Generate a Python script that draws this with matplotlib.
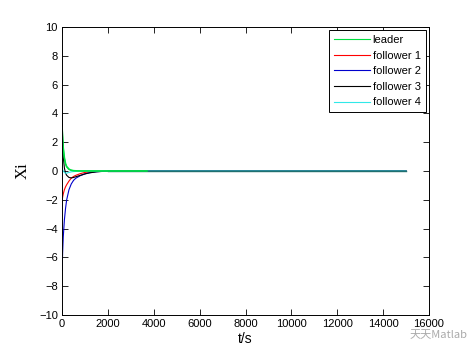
import matplotlib
matplotlib.use("Agg")
import matplotlib.pyplot as plt
import numpy as np

# time samples (s) for the transient part
t = [0, 25, 50, 100, 150, 200, 300, 400, 500, 600, 800, 1000, 1200, 1500, 2000]

leader = [3.0, 2.2, 1.6, 0.9, 0.5, 0.3, 0.12, 0.05, 0.02, 0.01, 0.0, 0.0, 0.0, 0.0, 0.0]
follower1 = [-2.1, -1.8, -1.6, -1.3, -1.1, -0.95, -0.7, -0.5, -0.38, -0.3, -0.18, -0.1, -0.06, -0.02, 0.0]
follower2 = [-6.9, -5.6, -4.6, -3.4, -2.6, -2.0, -1.3, -0.9, -0.65, -0.5, -0.32, -0.2, -0.12, -0.05, 0.0]
follower3 = [4.0, 2.0, 1.0, 0.2, -0.15, -0.3, -0.45, -0.48, -0.45, -0.4, -0.3, -0.2, -0.13, -0.06, 0.0]
follower4 = [0.3, 0.1, 0.0, -0.1, -0.15, -0.15, -0.1, -0.06, -0.04, -0.03, -0.02, -0.01, 0.0, 0.0, 0.0]

# end times of each recorded series
t_end_leader = 3700
t_end_follow = 15000

fig = plt.figure(figsize=(4.74, 3.54), dpi=100)
ax = fig.add_axes([0.131, 0.110, 0.774, 0.814])

lw = 0.8
ax.plot(t + [t_end_leader], leader + [0.0], color="#00e040", lw=lw, label="leader")
ax.plot(t + [t_end_follow], follower1 + [0.0], color="red", lw=lw, label="follower 1")
ax.plot(t + [t_end_follow], follower2 + [0.0], color="#0000cc", lw=lw, label="follower 2")
ax.plot(t + [t_end_follow], follower3 + [0.0], color="black", lw=lw, label="follower 3")
ax.plot(t + [t_end_follow], follower4 + [0.0], color="#30e8e8", lw=lw, label="follower 4")
# dark noisy tail of follower 3 over follower 4, leader on top near the start
ax.plot([t[-1], t_end_follow], [0.0, 0.0], color="#207070", lw=1.0)
ax.plot(t + [t_end_leader], leader + [0.0], color="#00e040", lw=1.2)

ax.set_xlim(0, 16000)
ax.set_ylim(-10, 10)
ax.set_xticks(np.arange(0, 16001, 2000))
ax.set_yticks(np.arange(-10, 11, 2))
ax.tick_params(direction="in", top=True, right=True, labelsize=8, length=4, width=0.6, pad=3)
for s in ax.spines.values():
    s.set_linewidth(0.7)

ax.set_xlabel("t/s", fontsize=10, family="Liberation Sans", labelpad=2)
ax.set_ylabel("Xi", fontsize=12, family="Liberation Serif", labelpad=6)
for lab in ax.get_xticklabels() + ax.get_yticklabels():
    lab.set_family("Liberation Sans")

leg = ax.legend(loc="upper right", fontsize=8, fancybox=False, framealpha=1,
                edgecolor="black", borderaxespad=0.3, handlelength=3.3,
                labelspacing=0.5, borderpad=0.45, handletextpad=0.2)
leg.get_frame().set_linewidth(0.7)
for txt in leg.get_texts():
    txt.set_family("Liberation Sans")

fig.text(0.865, 0.045, "天天Matlab", fontsize=8, color="#aaaaaa",
         family=["Noto Sans CJK SC", "DejaVu Sans"])

fig.savefig("out.png", dpi=100, facecolor="white")
